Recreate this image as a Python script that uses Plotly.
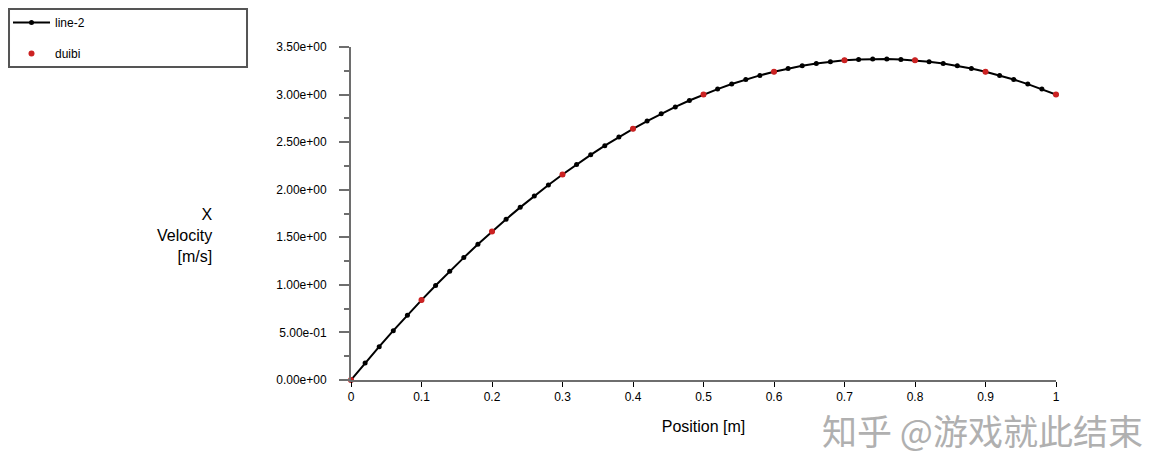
import plotly.graph_objects as go

# line-2 data (position, x-velocity)
pos_line = [0.00, 0.02, 0.04, 0.06, 0.08, 0.10, 0.12, 0.14, 0.16, 0.18,
            0.20, 0.22, 0.24, 0.26, 0.28, 0.30, 0.32, 0.34, 0.36, 0.38,
            0.40, 0.42, 0.44, 0.46, 0.48, 0.50, 0.52, 0.54, 0.56, 0.58,
            0.60, 0.62, 0.64, 0.66, 0.68, 0.70, 0.72, 0.74, 0.76, 0.78,
            0.80, 0.82, 0.84, 0.86, 0.88, 0.90, 0.92, 0.94, 0.96, 0.98, 1.00]
vel_line = [0.0, 0.1776, 0.3504, 0.5184, 0.6816, 0.84, 0.9936, 1.1424, 1.2864, 1.4256,
            1.56, 1.6896, 1.8144, 1.9344, 2.0496, 2.16, 2.2656, 2.3664, 2.4624, 2.5536,
            2.64, 2.7216, 2.7984, 2.8704, 2.9376, 3.0, 3.0576, 3.1104, 3.1584, 3.2016,
            3.24, 3.2736, 3.3024, 3.3264, 3.3456, 3.36, 3.3696, 3.3744, 3.3744, 3.3696,
            3.36, 3.3456, 3.3264, 3.3024, 3.2736, 3.24, 3.2016, 3.1584, 3.1104, 3.0576, 3.0]

# duibi (comparison) data
pos_duibi = [0.0, 0.1, 0.2, 0.3, 0.4, 0.5, 0.6, 0.7, 0.8, 0.9, 1.0]
vel_duibi = [0.0, 0.84, 1.56, 2.16, 2.64, 3.0, 3.24, 3.36, 3.36, 3.24, 3.0]

x_ticks = [0, 0.1, 0.2, 0.3, 0.4, 0.5, 0.6, 0.7, 0.8, 0.9, 1]
x_ticktext = ["0", "0.1", "0.2", "0.3", "0.4", "0.5", "0.6", "0.7", "0.8", "0.9", "1"]
y_ticks = [0, 0.5, 1.0, 1.5, 2.0, 2.5, 3.0, 3.5]
y_ticktext = ["0.00e+00", "5.00e-01", "1.00e+00", "1.50e+00", "2.00e+00",
              "2.50e+00", "3.00e+00", "3.50e+00"]
y_minor = [0.25, 0.75, 1.25, 1.75, 2.25, 2.75, 3.25]

FONT = "Arial, Liberation Sans, sans-serif"
AXIS_GREY = "#6e6e6e"

fig = go.Figure()
fig.add_trace(go.Scatter(
    x=pos_line, y=vel_line, mode="lines+markers", name="line-2",
    line=dict(color="black", width=2),
    marker=dict(color="black", size=5),
    cliponaxis=False, legendgroup="a",
))
fig.add_trace(go.Scatter(
    x=pos_duibi, y=vel_duibi, mode="markers", name="duibi",
    marker=dict(color="#cc2222", size=6),
    cliponaxis=False, legendgroup="b",
))

fig.update_layout(
    width=1166, height=467,
    margin=dict(l=343, r=118, t=39, b=95),
    paper_bgcolor="white", plot_bgcolor="white",
    font=dict(family=FONT, color="black", size=12),
    showlegend=True,
    legend=dict(
        x=0.0, y=1.022, xref="container", yref="container",
        xanchor="left", yanchor="top",
        borderwidth=0,
        bgcolor="rgba(0,0,0,0)",
        font=dict(size=12, family=FONT),
        tracegroupgap=12,
        traceorder="grouped",
        itemwidth=37,
    ),
    xaxis=dict(
        range=[0, 1], showgrid=False, zeroline=False,
        showline=True, linecolor=AXIS_GREY, linewidth=2,
        ticks="outside", ticklen=5, tickcolor="black", tickwidth=1,
        tickvals=x_ticks, ticktext=x_ticktext,
        tickfont=dict(size=12, family=FONT),
        title=dict(text="Position [m]", font=dict(size=16, family=FONT), standoff=17),
    ),
    yaxis=dict(
        range=[0, 3.5], showgrid=False, zeroline=False,
        showline=True, linecolor=AXIS_GREY, linewidth=2,
        ticks="outside", ticklen=10, tickcolor=AXIS_GREY, tickwidth=2,
        tickvals=y_ticks, ticktext=y_ticktext,
        tickfont=dict(size=12, family=FONT),
        ticklabelstandoff=10,
        minor=dict(tickvals=y_minor,
                   ticks="outside", ticklen=5, tickcolor=AXIS_GREY, tickwidth=2),
    ),
    shapes=[
        dict(type="rect", xref="paper", yref="paper",
             x0=-0.4851, x1=-0.1475, y0=0.94, y1=1.1141,
             line=dict(color="#555555", width=2), fillcolor="rgba(0,0,0,0)",
             layer="below"),
    ],
    annotations=[
        dict(text="X<br>Velocity<br>[m/s]", xref="paper", yref="paper",
             x=-0.195, y=0.435, xanchor="right", yanchor="middle", align="right",
             showarrow=False, font=dict(size=16, family=FONT)),
        dict(text="知乎 @游戏就此结束", xref="paper", yref="paper",
             x=1.126, y=-0.15, xanchor="right", yanchor="middle",
             showarrow=False,
             font=dict(size=35, family="Noto Sans CJK SC", color="#b0b0b0")),
    ],
)

fig.write_html("out.html")
